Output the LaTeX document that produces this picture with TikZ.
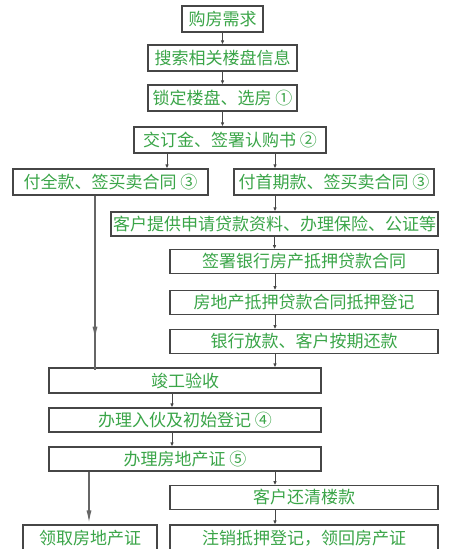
\documentclass[tikz,border=0pt]{standalone}
\usepackage{fontspec}
\newfontfamily\cjk{Noto Sans CJK SC}
\usetikzlibrary{arrows.meta,decorations.markings}
\definecolor{txtgreen}{RGB}{58,165,72}
\definecolor{edgegray}{RGB}{70,70,70}
\begin{document}
\begin{tikzpicture}[x=1pt, y=-1pt,%
      block/.style={rectangle, draw=edgegray, line width=1.1pt, fill=white, text=txtgreen, font=\cjk\fontsize{17}{18}\selectfont, text centered, inner sep=0pt},
      line/.style={draw=edgegray, line width=1pt, -{Latex[length=4pt,width=3.5pt]}},
      bigarrow/.style={draw, line width=1.8pt, gray!80!black, -{Latex[length=14pt,width=5pt]}}
      ]
    \useasboundingbox (0,0) rectangle (475,549);

    \node [block, minimum width=81pt, minimum height=26pt] (xq) at (222.5, 19) {购房需求};
    \node [block, minimum width=149pt, minimum height=26pt] (ss) at (222.5, 58) {搜索相关楼盘信息};
    \node [block, minimum width=149pt, minimum height=26pt] (sd) at (222.5, 98) {锁定楼盘、选房 ①};
    \node [block, minimum width=192pt, minimum height=26pt] (dj) at (230, 140) {交订金、签署认购书 ②};
    \path [line] (xq) -- (ss);
    \path [line] (ss) -- (sd);
    \path [line] (sd.south) -- (sd.south |- dj.north);

    \node [block, minimum width=195pt, minimum height=26pt] (qk) at (110.5, 182) {付全款、签买卖合同 ③};
    \node [block, minimum width=200pt, minimum height=26pt] (sq) at (334, 182) {付首期款、签买卖合同 ③};
    \path [line] ([xshift=-63pt]dj.south) -- ([xshift=-63pt]dj.south |- qk.north);
    \path [line] ([xshift=45pt]dj.south) -- ([xshift=45pt]dj.south |- sq.north);

    \node [block, minimum width=327pt, minimum height=24pt] (tg) at (274.5, 224) {客户提供申请贷款资料、办理保险、公证等};
    \node [block, minimum width=268pt, minimum height=23.5pt] (qs) at (304, 261.5) {签署银行房产抵押贷款合同};
    \node [block, minimum width=268pt, minimum height=23.5pt] (dy) at (304, 302.5) {房地产抵押贷款合同抵押登记};
    \node [block, minimum width=268pt, minimum height=23.5pt] (fk) at (304, 341.5) {银行放款、客户按期还款};
    \path [line] ([xshift=-59pt]sq.south) -- ([xshift=-59pt]sq.south |- tg.north);
    \path [line] (tg.south) -- (tg.south |- qs.north);
    \path [line] ([xshift=-29pt]qs.south) -- ([xshift=-29pt]qs.south |- dy.north);
    \path [line] ([xshift=-29pt]dy.south) -- ([xshift=-29pt]dy.south |- fk.north);

    \node [block, minimum width=272pt, minimum height=25pt] (jg) at (185, 380.5) {竣工验收};
    \node [block, minimum width=272pt, minimum height=24pt] (rh) at (185, 420) {办理入伙及初始登记 ④};
    \node [block, minimum width=272pt, minimum height=24pt] (bz) at (185, 459) {办理房地产证 ⑤};
    \path [line] ([xshift=-29pt]fk.south) -- ([xshift=-29pt]fk.south |- jg.north);
    \path [line] ([xshift=-13pt]jg.south) -- ([xshift=-13pt]jg.south |- rh.north);
    \path [line] ([xshift=-13pt]rh.south) -- ([xshift=-13pt]rh.south |- bz.north);

    % long arrow, head part way down
    \path [draw, line width=1.8pt, gray!80!black,
           postaction={decorate}, decoration={markings, mark=at position 0.83 with {\arrow{Latex[length=14pt,width=5pt]}}}]
          ([xshift=-15.5pt]qk.south) -- ([xshift=-15.5pt,yshift=-3pt]qk.south |- jg.north);

    \node [block, minimum width=268pt, minimum height=23.5pt] (hq) at (304, 497.5) {客户还清楼款};
    \node [block, minimum width=134pt, minimum height=26pt] (lq) at (90, 538) {领取房地产证};
    \node [block, minimum width=268pt, minimum height=26pt] (zx) at (304, 538) {注销抵押登记，领回房产证};
    \path [line] ([xshift=90pt]bz.south) -- ([xshift=90pt]bz.south |- hq.north);
    \path [line] ([xshift=-29pt]hq.south) -- ([xshift=-29pt]hq.south |- zx.north);
    \path [bigarrow] ([xshift=-96pt]bz.south) -- ([xshift=-96pt]bz.south |- lq.north);
  \end{tikzpicture}
\end{document}
